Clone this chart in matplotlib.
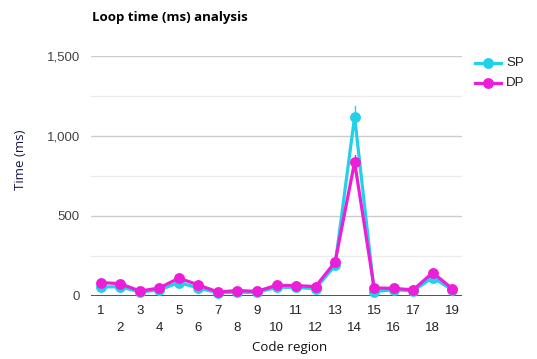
import matplotlib
matplotlib.use("Agg")
import matplotlib.pyplot as plt
import numpy as np

regions = list(range(1, 20))
sp = [56, 58, 25, 38, 84, 50, 20, 23, 23, 54, 54, 45, 192, 1121, 27, 39, 33, 115, 39]
dp = [84, 77, 31, 50, 112, 69, 25, 34, 29, 67, 65, 59, 212, 837, 50, 48, 38, 146, 46]
sp_err = [0]*13 + [68] + [0]*5
dp_err = [0]*13 + [42] + [0]*5
series_names = ["SP", "DP"]
colors = ["#22d0e8", "#ec1ed8"]
yticks_major = [0, 500, 1000, 1500]
yticks_minor = [250, 750, 1250]

fig = plt.figure(figsize=(5.37, 3.59), dpi=100)
ax = fig.add_axes([91/537, 1-296/359, (462-91)/537, (296-56)/359])

for v in yticks_major[1:]:
    ax.axhline(v, color="#cccccc", lw=1, zorder=0)
for v in yticks_minor:
    ax.axhline(v, color="#ebebeb", lw=1, zorder=0)
ax.axhline(0, color="#333333", lw=1.2, zorder=1)

for vals, errs, c, name in [(sp, sp_err, colors[0], series_names[0]), (dp, dp_err, colors[1], series_names[1])]:
    ax.plot(regions, vals, color=c, lw=2.3, marker="o", ms=6.8, label=name, zorder=3, clip_on=False)
    for x, v, e in zip(regions, vals, errs):
        if e:
            ax.plot([x, x], [v - e, v + e], color=c, lw=1, zorder=3)

ax.set_xlim(0.5, 19.5)
ax.set_ylim(0, 1500)
for s in ax.spines.values():
    s.set_visible(False)
ax.set_yticks(yticks_major)
ax.set_yticklabels([f"{v:,}" for v in yticks_major], family="Liberation Sans", fontsize=9.5, color="#444444")
ax.tick_params(axis="both", length=0, pad=8)
ax.set_xticks(regions)
ax.set_xticklabels([])
for r in regions:
    yoff = -15 if r % 2 == 1 else -32
    ax.annotate(str(r), (r, 0), xytext=(0, yoff), textcoords="offset pixels",
                ha="center", va="center", family="Liberation Sans", fontsize=9.5, color="#222222",
                annotation_clip=False)

fig.text(92/537, 1-18/359, "Loop time (ms) analysis", fontsize=9.5, fontweight="bold",
         family="Open Sans", ha="left", va="center", color="#000000")
fig.text(20/537, 1-160/359, "Time (ms)", rotation=90, fontsize=9.5, family="Open Sans",
         ha="center", va="center", color="#1a1a4a")
fig.text(290/537, 1-347/359, "Code region", fontsize=9.5, family="Open Sans",
         ha="center", va="center", color="#111111")

# legend
for i, (name, c) in enumerate(zip(series_names, colors)):
    yy = 1 - (62.7 + 20*i)/359
    fig.add_artist(plt.Line2D([475/537, 501/537], [yy, yy], color=c, lw=2.3, transform=fig.transFigure))
    fig.add_artist(plt.Line2D([488/537], [yy], color=c, marker="o", ms=6.8, transform=fig.transFigure))
    fig.text(506/537, yy, name, fontsize=9.5, family="Liberation Sans", ha="left", va="center", color="#222222")

fig.savefig("out.png", dpi=100)
